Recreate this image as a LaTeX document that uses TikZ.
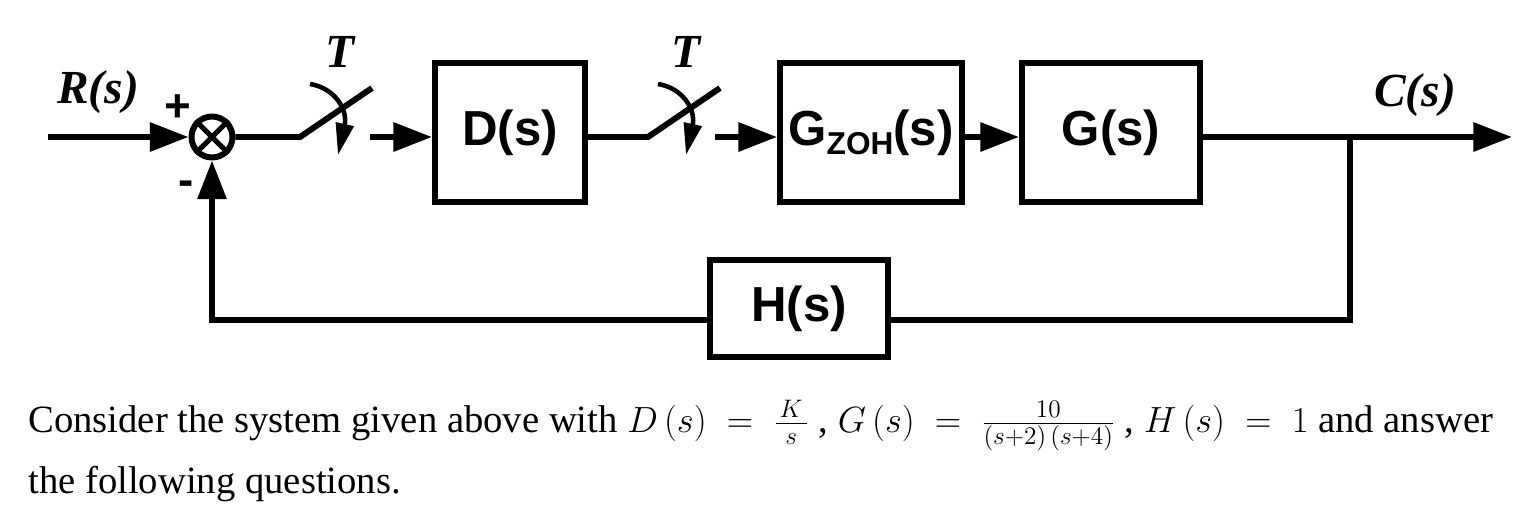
\documentclass[tikz,border=0pt]{standalone}
\usepackage{fontspec}
\setmainfont{Liberation Serif}
\newfontfamily\blk{Liberation Sans}
\usetikzlibrary{arrows.meta}
\begin{document}
\begin{tikzpicture}[x=0.02cm,y=-0.02cm,
  ln/.style={line width=3.4pt},
  ar/.style={ln,-{Triangle[length=22pt,width=16pt]}},
  blockst/.style={draw,line width=3.4pt,minimum width=#1*0.02cm,minimum height=2.78cm,font=\blk\bfseries\fontsize{28}{30}\selectfont,inner sep=0pt},
  lab/.style={font=\bfseries\itshape\fontsize{27}{30}\selectfont}]
\useasboundingbox (0,0) rectangle (1522,524);
\node[blockst=150] (D) at (510,132.5) {D(s)};
\node[blockst=182] (Z) at (871,132.5) {G\raisebox{-0.35ex}{\fontsize{18}{20}\selectfont ZOH}(s)};
\node[blockst=178] (G) at (1111,132.5) {G(s)};
\node[blockst=178,minimum height=1.94cm] (H) at (799,308.5) {H(s)};
\node[circle,draw,line width=3.4pt,minimum size=0.82cm,inner sep=0pt] (S) at (212,137) {};
\draw[line width=3pt] (S.45)--(S.225) (S.135)--(S.315);
\coordinate (in) at (48,137);
\coordinate (out) at (1512,137);
\coordinate (br) at (1350,137);
\coordinate (fb) at (1350,320);
\coordinate (s1a) at (300,137); \coordinate (s1b) at (372,88); \coordinate (s1c) at (370,137);
\coordinate (s2a) at (648,137); \coordinate (s2b) at (720,88); \coordinate (s2c) at (715,137);
\draw[ar] (in) -- (S);
\draw[ln] (S) -- (s1a) -- (s1b);
\draw[ar] (s1c) -- (D.west|-s1c);
\draw[ln] (D.east|-s2a) -- (s2a) -- (s2b);
\draw[ar] (s2c) -- (Z.west|-s2c);
\draw[ar] (Z.east|-out) -- (G.west|-out);
\draw[ar] (G.east|-out) -- (out);
\draw[ln] (br) -- (fb) -- (H.east|-fb);
\draw[ar] (H.west|-fb) -| (S);
\foreach \x in {0,348}{
  \draw[line width=2.6pt,-{Triangle[length=18pt,width=10pt]}] (310+\x,84) .. controls (335+\x,88) and (348+\x,110) .. (338+\x,155);
}
\node[lab] (R) at (98,92) {R(s)};
\node[lab] (C) at (1415,95) {C(s)};
\node[lab] (T1) at (340,52) {T};
\node[lab] (T2) at (686,52) {T};
\node[font=\blk\bfseries\fontsize{26}{28}\selectfont] (p) at (178,108) {+};
\node[font=\blk\bfseries\fontsize{26}{28}\selectfont] (m) at (186,188) {-};
\node[anchor=base west,font=\fontsize{22}{26}\selectfont,inner sep=0pt] (t1) at (28,432)
 {Consider the system given above with $D\,(s)\;=\;\frac{\,K\,}{s}$ , $G\,(s)\;=\;\frac{\;10\;}{(s+2)\,(s+4)}$ , $H\,(s)\;=\;1$ and answer};
\node[anchor=base west,font=\fontsize{22}{26}\selectfont,inner sep=0pt] (t2) at (28,493) {the following questions.};
\end{tikzpicture}
\end{document}
